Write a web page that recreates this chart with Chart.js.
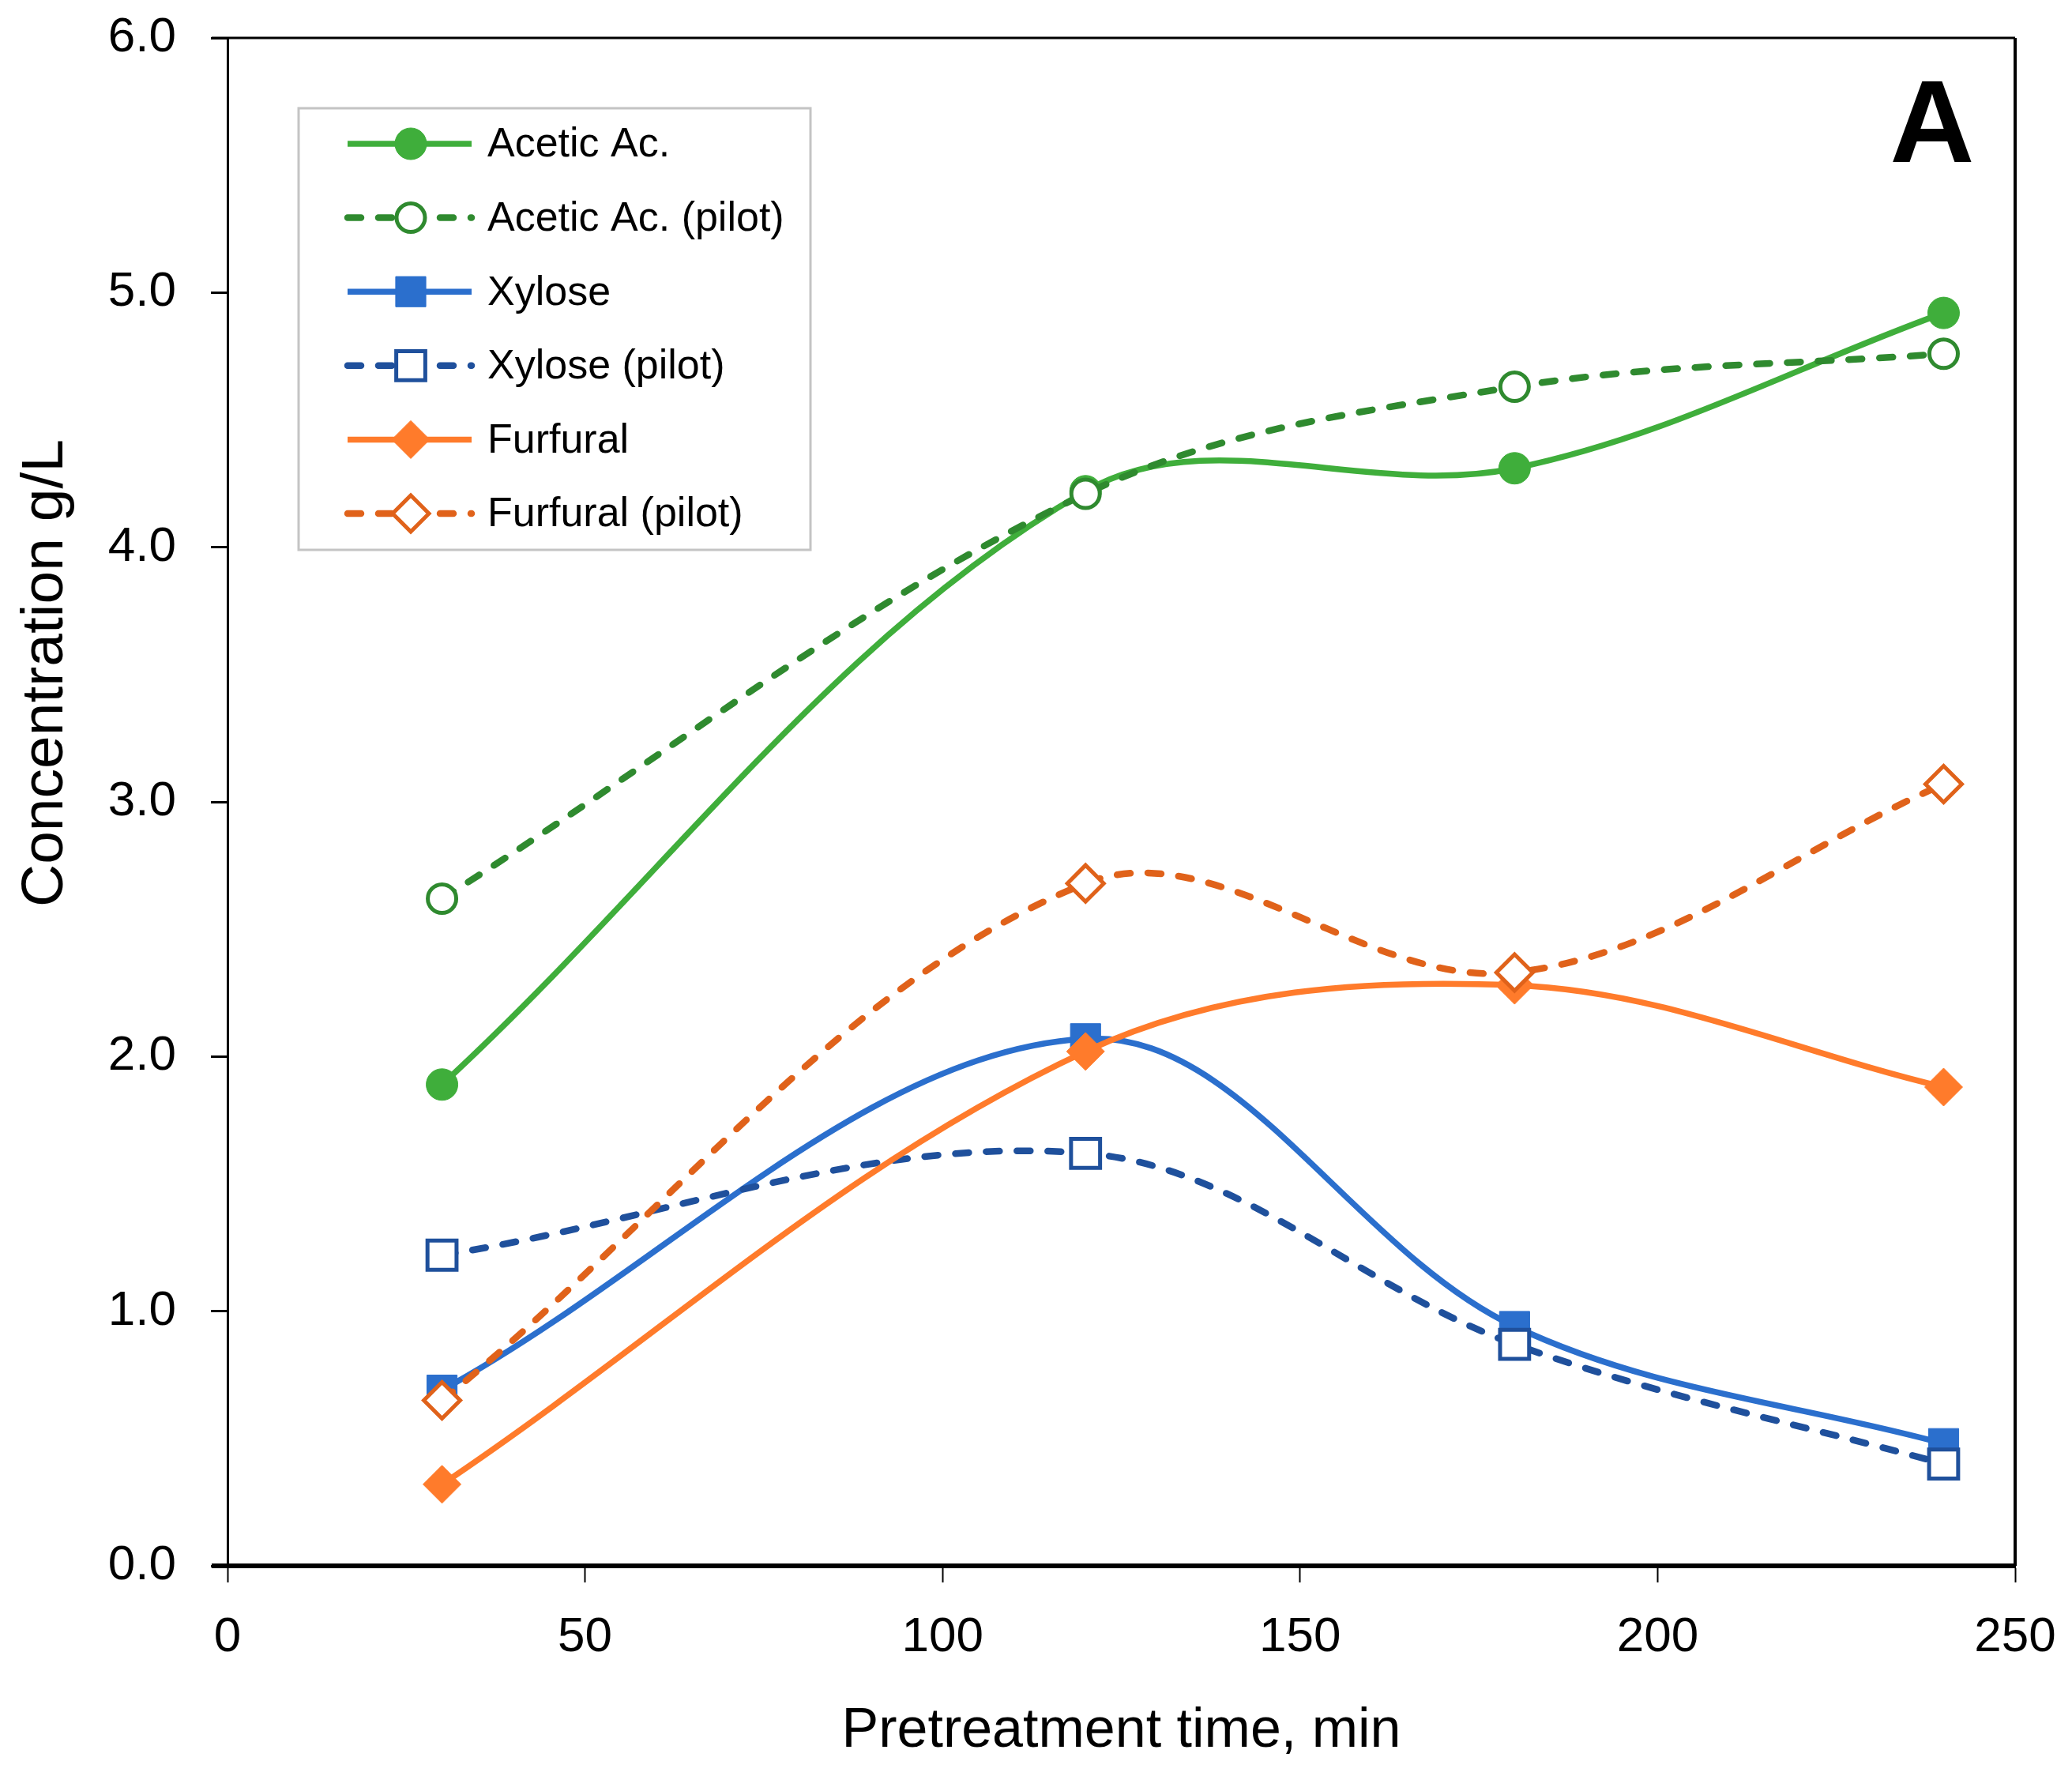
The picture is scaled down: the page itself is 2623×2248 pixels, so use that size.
<!DOCTYPE html>
<html>
<head>
<meta charset="utf-8">
<script src="https://cdn.jsdelivr.net/npm/chart.js@4/dist/chart.umd.min.js"></script>
<style>
  html, body { margin: 0; padding: 0; background: #ffffff; }
  #wrap { width: 2623px; height: 2248px; }
</style>
</head>
<body>
<div id="wrap"><canvas id="c" width="2623" height="2248"></canvas></div>
<script>
// ---- Data ----
const times = [30, 120, 180, 240];
const aceticAc = [1.89, 4.22, 4.31, 4.92];
const aceticAcPilot = [2.62, 4.21, 4.63, 4.76];
const xylose = [0.69, 2.07, 0.94, 0.48];
const xylosePilot = [1.22, 1.62, 0.87, 0.40];
const furfural = [0.32, 2.02, 2.28, 1.88];
const furfuralPilot = [0.65, 2.68, 2.33, 3.07];
const seriesNames = ['Acetic Ac.', 'Acetic Ac. (pilot)', 'Xylose', 'Xylose (pilot)', 'Furfural', 'Furfural (pilot)'];
const xTickValues = [0, 50, 100, 150, 200, 250];
const yTickValues = [0, 1, 2, 3, 4, 5, 6];
const panelLabel = 'A';
const xTitle = 'Pretreatment time, min';
const yTitle = 'Concentration g/L';

const FONT = "'Liberation Sans', Arial, sans-serif";

function pts(vals) { return times.map((t, i) => ({ x: t, y: vals[i] })); }

const styles = [
  { color: '#3fae3b', dash: [], shape: 'circle', filled: true, r: 20 },
  { color: '#2f8a2f', dash: [17, 22], shape: 'circle', filled: false, r: 18 },
  { color: '#2b6fcd', dash: [], shape: 'rect', filled: true, r: 27 },
  { color: '#1f509c', dash: [17, 22], shape: 'rect', filled: false, r: 26 },
  { color: '#ff7b2b', dash: [], shape: 'rectRot', filled: true, r: 24 },
  { color: '#e0621a', dash: [17, 22], shape: 'rectRot', filled: false, r: 23 }
];
const seriesValues = [aceticAc, aceticAcPilot, xylose, xylosePilot, furfural, furfuralPilot];

const datasets = seriesValues.map((vals, i) => {
  const s = styles[i];
  const dashed = s.dash.length > 0;
  return {
    label: seriesNames[i],
    data: pts(vals),
    borderColor: s.color,
    backgroundColor: s.filled ? s.color : '#ffffff',
    borderWidth: dashed ? 8.5 : 7.5,
    borderDash: s.dash,
    borderCapStyle: dashed ? 'round' : 'butt',
    tension: 0.35,
    pointStyle: s.shape,
    pointRadius: s.r,
    pointHoverRadius: s.r,
    pointBorderColor: s.color,
    pointBackgroundColor: s.filled ? s.color : '#ffffff',
    pointBorderWidth: s.filled ? 1 : 5,
    order: seriesValues.length - i,
    fill: false
  };
});

// Legend drawn inside the plot area, from dataset styles
const innerLegend = {
  id: 'innerLegend',
  afterDraw(chart) {
    const ctx = chart.ctx;
    const ca = chart.chartArea;
    const bx = ca.left + 90, by = ca.top + 89, bw = 648, bh = 559;
    ctx.save();
    ctx.fillStyle = '#ffffff';
    ctx.fillRect(bx, by, bw, bh);
    ctx.strokeStyle = '#c4c4c4';
    ctx.lineWidth = 3;
    ctx.strokeRect(bx, by, bw, bh);
    const step = 93.6;
    chart.data.datasets.forEach((ds, i) => {
      const y = by + 45 + i * step;
      const x0 = bx + 62, x1 = bx + 219, xm = bx + 142;
      ctx.save();
      ctx.strokeStyle = ds.borderColor;
      ctx.lineWidth = ds.borderWidth;
      ctx.setLineDash(ds.borderDash || []);
      ctx.lineCap = ds.borderCapStyle;
      ctx.beginPath();
      ctx.moveTo(x0, y);
      ctx.lineTo(x1, y);
      ctx.stroke();
      ctx.restore();
      ctx.save();
      ctx.fillStyle = ds.pointBackgroundColor;
      ctx.strokeStyle = ds.pointBorderColor;
      ctx.lineWidth = ds.pointBorderWidth;
      ctx.setLineDash([]);
      Chart.helpers.drawPoint(ctx, { pointStyle: ds.pointStyle, rotation: 0, radius: ds.pointRadius, borderWidth: ds.pointBorderWidth }, xm, y);
      ctx.restore();
      ctx.fillStyle = '#000000';
      ctx.font = '52px ' + FONT;
      ctx.textAlign = 'left';
      ctx.textBaseline = 'middle';
      ctx.fillText(ds.label, bx + 239, y + 2);
    });
    ctx.restore();
  }
};

const frame = {
  id: 'frame',
  afterDatasetsDraw(chart) {
    const ctx = chart.ctx;
    const ca = chart.chartArea;
    ctx.save();
    ctx.strokeStyle = '#000000';
    ctx.lineWidth = 3;
    ctx.beginPath();
    ctx.moveTo(ca.left - 20, ca.top);
    ctx.lineTo(ca.right, ca.top);
    ctx.stroke();
    ctx.lineWidth = 4;
    ctx.beginPath();
    ctx.moveTo(ca.right, ca.top);
    ctx.lineTo(ca.right, ca.bottom);
    ctx.stroke();
    ctx.lineWidth = 6;
    ctx.beginPath();
    ctx.moveTo(ca.left - 20, ca.bottom);
    ctx.lineTo(ca.right, ca.bottom);
    ctx.stroke();
    // panel label
    ctx.fillStyle = '#000000';
    ctx.font = 'bold 148px ' + FONT;
    ctx.textAlign = 'center';
    ctx.textBaseline = 'alphabetic';
    ctx.fillText(panelLabel, ca.right - 105, ca.top + 157);
    // y axis title (offset upward as in the original)
    ctx.save();
    ctx.translate(58, ca.top + 804);
    ctx.rotate(-Math.PI / 2);
    ctx.font = '75px ' + FONT;
    ctx.textAlign = 'center';
    ctx.textBaseline = 'middle';
    ctx.fillText(yTitle, 0, 0);
    ctx.restore();
    ctx.restore();
  }
};

const chart = new Chart(document.getElementById('c'), {
  type: 'line',
  data: { datasets: datasets },
  plugins: [frame, innerLegend],
  options: {
    responsive: false,
    animation: false,
    devicePixelRatio: 1,
    layout: { padding: { left: 100, right: 72, top: 48, bottom: 14 } },
    plugins: { legend: { display: false }, tooltip: { enabled: false } },
    elements: { point: { hitRadius: 0 } },
    scales: {
      x: {
        type: 'linear',
        min: xTickValues[0],
        max: xTickValues[xTickValues.length - 1],
        afterBuildTicks(scale) { scale.ticks = xTickValues.map(v => ({ value: v })); },
        afterFit(scale) { scale.height = 252; scale.paddingLeft = 0; scale.paddingRight = 0; },
        grid: { drawOnChartArea: false, drawTicks: true, tickLength: 21, tickColor: '#000000', tickWidth: 2 },
        border: { display: true, color: '#000000', width: 6 },
        ticks: { color: '#000000', font: { family: FONT, size: 62 }, padding: 33, maxRotation: 0, autoSkip: false,
                 callback: v => String(v) },
        title: { display: true, text: xTitle, color: '#000000', font: { family: FONT, size: 70 }, padding: { top: 0, bottom: 0 } }
      },
      y: {
        type: 'linear',
        min: yTickValues[0],
        max: yTickValues[yTickValues.length - 1],
        afterBuildTicks(scale) { scale.ticks = yTickValues.map(v => ({ value: v })); },
        afterFit(scale) { scale.width = 188; scale.paddingTop = 0; scale.paddingBottom = 0; },
        grid: { drawOnChartArea: false, drawTicks: true, tickLength: 21, tickColor: '#000000', tickWidth: 3 },
        border: { display: true, color: '#000000', width: 3 },
        ticks: { color: '#000000', font: { family: FONT, size: 62 }, padding: 44, autoSkip: false,
                 callback: v => Number(v).toFixed(1) },
        title: { display: false }
      }
    }
  }
});
</script>
</body>
</html>
